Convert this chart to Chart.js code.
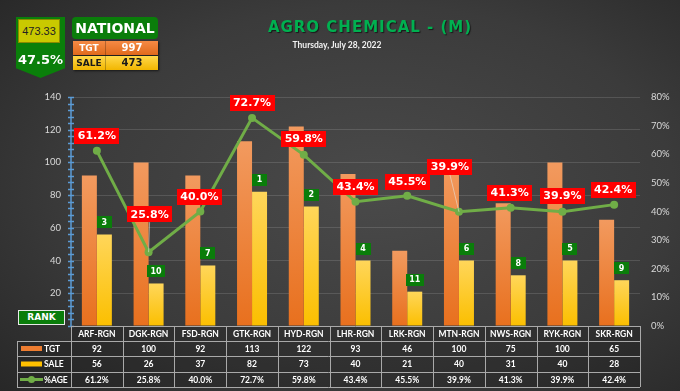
<!DOCTYPE html>
<html>
<head>
<meta charset="utf-8">
<script src="https://cdn.jsdelivr.net/npm/chart.js@4"></script>
<style>
  html, body { margin: 0; padding: 0; }
  body {
    width: 680px; height: 391px; overflow: hidden; position: relative;
    background: radial-gradient(ellipse 80% 85% at 55% 48%, #4a4a4a 0%, #3b3b3b 55%, #232323 100%);
    font-family: "Liberation Sans", Arial, sans-serif;
  }
  #c { position: absolute; left: 0; top: 0; }
  .ov { position: absolute; z-index: 2; }
  #title { left: 370px; top: 18px; transform: translateX(-50%); white-space: nowrap;
    color: #00b050; font: bold 15px "DejaVu Sans", sans-serif; letter-spacing: 1px;
    text-shadow: 1px 1px 1px rgba(0,0,0,0.6); }
  #date { left: 337px; top: 40px; transform: translateX(-50%); white-space: nowrap;
    color: #f2f2f2; font: bold 8.5px Lato, sans-serif; }
  #arrow { left: 16px; top: 17px; width: 49px; height: 61px; background: #0a7f0a;
    clip-path: polygon(0 0, 100% 0, 100% 84%, 50% 100%, 0 84%); }
  #avg { left: 18px; top: 19px; width: 42px; height: 24px; background: #c9c900;
    box-shadow: inset 0 0 0 1px #8a8a00; color: #222; font: 11px "Liberation Sans", Arial, sans-serif;
    line-height: 24px; text-align: center; }
  #avgpct { left: 16px; top: 52px; width: 49px; text-align: center; color: #fff;
    font: bold 13px "DejaVu Sans", sans-serif; }
  #nat { left: 72px; top: 17px; width: 86px; height: 22px; background: #0a7d0a; border-radius: 4px;
    color: #fff; font: bold 14px "DejaVu Sans", sans-serif; line-height: 22px; text-align: center; }
  .row { left: 73px; width: 85px; height: 14px; display: flex; font: bold 9px "DejaVu Sans", sans-serif;
    line-height: 14px; box-shadow: 1px 1px 2px rgba(0,0,0,0.6); }
  .row span { text-align: center; }
  .row span:first-child { width: 32px; border-right: 1px solid rgba(0,0,0,0.25); }
  .row span:last-child { flex: 1; font-size: 10px; }
  #rtgt { top: 41px; background: linear-gradient(#f58a45, #e06a1c); color: #fff; }
  #rsale { top: 56px; background: linear-gradient(#ffd84a, #f2b600); color: #1a1a1a; }
  #rank { left: 18px; top: 310px; width: 45px; height: 13px; background: #0a7d0a;
    border: 1.5px solid #e8e8e8; color: #fff; font: bold 9px "DejaVu Sans", sans-serif;
    line-height: 13px; text-align: center; }
</style>
</head>
<body>
<canvas id="c" width="680" height="391"></canvas>
<div class="ov" id="title">AGRO CHEMICAL - (M)</div>
<div class="ov" id="date">Thursday, July 28, 2022</div>
<div class="ov" id="arrow"></div>
<div class="ov" id="avg">473.33</div>
<div class="ov" id="avgpct">47.5%</div>
<div class="ov" id="nat">NATIONAL</div>
<div class="ov row" id="rtgt"><span>TGT</span><span>997</span></div>
<div class="ov row" id="rsale"><span>SALE</span><span>473</span></div>
<div class="ov" id="rank">RANK</div>
<script>
// Agro chemical region chart

const regions = ['ARF-RGN', 'DGK-RGN', 'FSD-RGN', 'GTK-RGN', 'HYD-RGN', 'LHR-RGN',
                 'LRK-RGN', 'MTN-RGN', 'NWS-RGN', 'RYK-RGN', 'SKR-RGN'];
const tgt = [92, 100, 92, 113, 122, 93, 46, 100, 75, 100, 65];
const sale = [56, 26, 37, 82, 73, 40, 21, 40, 31, 40, 28];
const pct = [61.2, 25.8, 40.0, 72.7, 59.8, 43.4, 45.5, 39.9, 41.3, 39.9, 42.4];
const rank = [3, 10, 7, 1, 2, 4, 11, 6, 8, 5, 9];

// where each % label sits relative to its point (dx, dy)
const pctNudge = [[0, -15], [1, -38], [-1, -15], [0, -15], [0, -16], [0, -15],
                  [0, -14], [-9, -45], [-1, -15], [0, -16], [-1, -15]];

function barGradient(top, bottom) {
    return function(context) {
        const chart = context.chart;
        const area = chart.chartArea;
        if (!area) return bottom;
        const y = chart.scales.y.getPixelForValue(context.raw);
        const g = chart.ctx.createLinearGradient(0, y, 0, area.bottom);
        g.addColorStop(0, top);
        g.addColorStop(1, bottom);
        return g;
    };
}

// blue left axis with small ticks
const axisPlugin = {
    id: 'axisLine',
    afterDatasetsDraw(chart) {
        const ctx = chart.ctx;
        const y = chart.scales.y;
        const x0 = chart.chartArea.left;
        ctx.save();
        ctx.strokeStyle = '#5b9bd5';
        ctx.lineWidth = 1.5;
        ctx.beginPath();
        ctx.moveTo(x0, y.getPixelForValue(y.max));
        ctx.lineTo(x0, y.getPixelForValue(0));
        for (let v = 0; v <= y.max; v += 4) {
            const py = Math.round(y.getPixelForValue(v)) + 0.5;
            ctx.moveTo(x0 - 3, py);
            ctx.lineTo(x0 + 3, py);
        }
        ctx.stroke();
        ctx.restore();
    }
};

function box(ctx, cx, cy, w, h, fill, text, font) {
    ctx.fillStyle = fill;
    ctx.fillRect(Math.round(cx - w / 2), Math.round(cy - h / 2), w, h);
    ctx.fillStyle = '#fff';
    ctx.font = font;
    ctx.textAlign = 'center';
    ctx.textBaseline = 'middle';
    ctx.fillText(text, cx, cy + 0.5);
}

// % labels and rank boxes
const labelPlugin = {
    id: 'labels',
    afterDatasetsDraw(chart) {
        const ctx = chart.ctx;
        const saleBars = chart.getDatasetMeta(1).data;
        const points = chart.getDatasetMeta(2).data;
        ctx.save();
        saleBars.forEach((bar, i) => {
            const font = 'bold 8px "DejaVu Sans"';
            ctx.font = font;
            const w = Math.max(15, Math.round(ctx.measureText(String(rank[i])).width) + 7);
            box(ctx, bar.x, bar.y - 12, w, 12, '#0a7d0a', String(rank[i]), font);
        });
        points.forEach((pt, i) => {
            const [dx, dy] = pctNudge[i];
            const cx = pt.x + dx, cy = pt.y + dy;
            if (dy < -30) {
                ctx.strokeStyle = 'rgba(230,230,230,0.7)';
                ctx.lineWidth = 0.8;
                ctx.beginPath();
                ctx.moveTo(cx, cy + 8);
                ctx.lineTo(pt.x, pt.y);
                ctx.stroke();
            }
            box(ctx, cx, cy, 45, 16, '#ff0000', pct[i].toFixed(1) + '%', 'bold 11px "DejaVu Sans"');
        });
        ctx.restore();
    }
};

// data table under the plot
const tablePlugin = {
    id: 'dataTable',
    afterDraw(chart) {
        const ctx = chart.ctx;
        const x = chart.scales.x;
        const area = chart.chartArea;
        const half = (area.right - area.left) / regions.length / 2;
        const rowsY = [326, 341, 356, 372, 387];
        const headL = 17;
        ctx.save();
        ctx.fillStyle = 'rgba(30,30,30,0.35)';
        ctx.fillRect(area.left, rowsY[0], area.right - area.left, rowsY[4] - rowsY[0]);
        ctx.fillRect(headL, rowsY[1], area.left - headL, rowsY[4] - rowsY[1]);

        ctx.strokeStyle = '#a9a9a9';
        ctx.lineWidth = 1;
        ctx.beginPath();
        rowsY.forEach((ry, r) => {
            const l = r === 0 ? area.left : headL;
            ctx.moveTo(l, ry + 0.5);
            ctx.lineTo(area.right, ry + 0.5);
        });
        ctx.moveTo(headL + 0.5, rowsY[1]);
        ctx.lineTo(headL + 0.5, rowsY[4]);
        for (let i = 0; i <= regions.length; i++) {
            const px = Math.round(x.getPixelForValue(i) - half) + 0.5;
            ctx.moveTo(px, rowsY[0]);
            ctx.lineTo(px, rowsY[4]);
        }
        ctx.stroke();

        ctx.fillStyle = '#fff';
        ctx.textAlign = 'center';
        ctx.textBaseline = 'middle';
        ctx.font = 'bold 8.5px Lato';
        const rows = [regions, tgt, sale, pct.map(v => v.toFixed(1) + '%')];
        rows.forEach((vals, r) => {
            const cy = (rowsY[r] + rowsY[r + 1]) / 2 + 0.5;
            vals.forEach((v, i) => ctx.fillText(String(v), x.getPixelForValue(i), cy));
        });

        // row headers with legend keys
        const names = ['TGT', 'SALE', '%AGE'];
        ctx.textAlign = 'left';
        names.forEach((n, r) => {
            const cy = (rowsY[r + 1] + rowsY[r + 2]) / 2;
            if (r === 0) { ctx.fillStyle = '#ed7d31'; ctx.fillRect(21, cy - 2.5, 21, 5); }
            if (r === 1) { ctx.fillStyle = '#ffc000'; ctx.fillRect(21, cy - 2.5, 21, 5); }
            if (r === 2) {
                ctx.strokeStyle = '#70ad47'; ctx.lineWidth = 3;
                ctx.beginPath(); ctx.moveTo(20, cy); ctx.lineTo(43, cy); ctx.stroke();
                ctx.fillStyle = '#70ad47';
                ctx.beginPath(); ctx.arc(31.5, cy, 3.5, 0, Math.PI * 2); ctx.fill();
            }
            ctx.fillStyle = '#fff';
            ctx.fillText(n, 44, cy + 0.5);
        });
        ctx.restore();
    }
};

new Chart(document.getElementById('c'), {
    type: 'bar',
    data: {
        labels: regions,
        datasets: [{
            label: 'TGT',
            data: tgt,
            backgroundColor: barGradient('#f29a5f', '#e8701e'),
            categoryPercentage: 0.58,
            barPercentage: 1.0,
            order: 2
        }, {
            label: 'SALE',
            data: sale,
            backgroundColor: barGradient('#ffd65a', '#fbbf00'),
            categoryPercentage: 0.58,
            barPercentage: 1.0,
            order: 2
        }, {
            type: 'line',
            label: '%AGE',
            data: pct,
            yAxisID: 'y1',
            borderColor: '#70ad47',
            backgroundColor: '#70ad47',
            borderWidth: 3,
            pointRadius: 4,
            pointBorderWidth: 0,
            pointBackgroundColor: '#70ad47',
            order: 1
        }]
    },
    options: {
        responsive: false,
        animation: false,
        layout: { padding: { top: 97, bottom: 65, left: 0, right: 0 } },
        scales: {
            x: { display: false, offset: true },
            y: {
                position: 'left',
                min: 0,
                max: 140,
                ticks: {
                    stepSize: 20,
                    padding: 10,
                    color: '#d9d9d9',
                    font: { family: 'Lato', size: 9.5 },
                    callback: v => v === 0 ? '' : v
                },
                grid: { color: 'rgba(255,255,255,0.13)', drawTicks: false },
                border: { display: false },
                afterFit: s => { s.width = 71; }
            },
            y1: {
                position: 'right',
                min: 0,
                max: 80,
                ticks: {
                    stepSize: 10,
                    padding: 11,
                    color: '#d9d9d9',
                    font: { family: 'Lato', size: 9.5 },
                    callback: v => v + '%'
                },
                grid: { display: false, drawTicks: false },
                border: { display: false },
                afterFit: s => { s.width = 40; }
            }
        },
        plugins: {
            legend: { display: false },
            tooltip: { enabled: false }
        }
    },
    plugins: [axisPlugin, labelPlugin, tablePlugin]
});
</script>
</body>
</html>
